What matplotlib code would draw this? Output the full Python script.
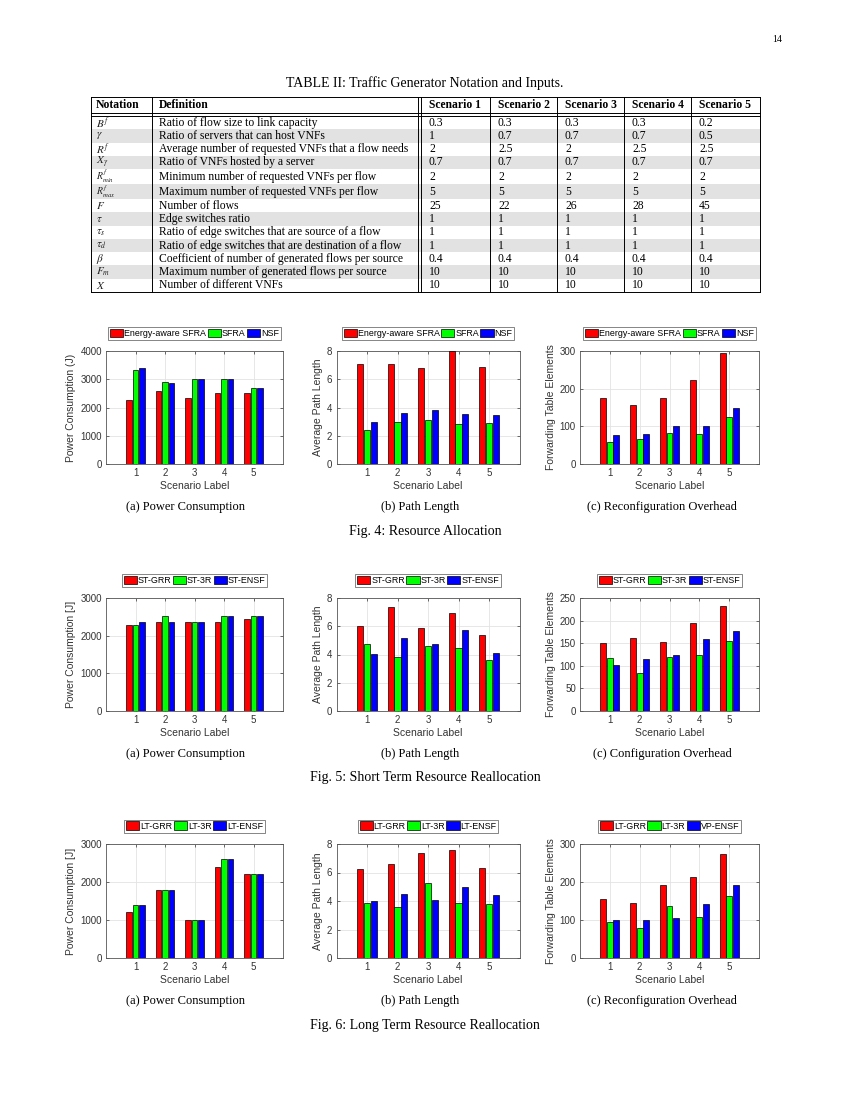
import numpy as np
import matplotlib
matplotlib.use('Agg')
import matplotlib.pyplot as plt
from matplotlib.patches import Rectangle

plt.rcParams['mathtext.fontset'] = 'stix'
plt.rcParams['font.family'] = 'Liberation Sans'

W, H = 850, 1100
SERIF = 'Liberation Serif'

scenarios = [1, 2, 3, 4, 5]
bar_colors = ['#ff0000', '#00ff00', '#0000ff']

# ---- table data ----
tab_title = 'TABLE II: Traffic Generator Notation and Inputs.'
tab_header = ['Notation', 'Definition', 'Scenario 1', 'Scenario 2', 'Scenario 3', 'Scenario 4', 'Scenario 5']
tab_notation = [r'$B^f$', r'$\gamma$', r'$R^f$', r'$X_\gamma$', r'$R^f_{min}$', r'$R^f_{max}$', r'$F$',
                r'$\tau$', r'$\tau_s$', r'$\tau_d$', r'$\beta$', r'$F_m$', r'$X$']
tab_definition = ['Ratio of flow size to link capacity',
                  'Ratio of servers that can host VNFs',
                  'Average number of requested VNFs that a flow needs',
                  'Ratio of VNFs hosted by a server',
                  'Minimum number of requested VNFs per flow',
                  'Maximum number of requested VNFs per flow',
                  'Number of flows',
                  'Edge switches ratio',
                  'Ratio of edge switches that are source of a flow',
                  'Ratio of edge switches that are destination of a flow',
                  'Coefficient of number of generated flows per source',
                  'Maximum number of generated flows per source',
                  'Number of different VNFs']
tab_values = [['0.3', '0.3', '0.3', '0.3', '0.2'],
              ['1', '0.7', '0.7', '0.7', '0.5'],
              ['2', '2.5', '2', '2.5', '2.5'],
              ['0.7', '0.7', '0.7', '0.7', '0.7'],
              ['2', '2', '2', '2', '2'],
              ['5', '5', '5', '5', '5'],
              ['25', '22', '26', '28', '45'],
              ['1', '1', '1', '1', '1'],
              ['1', '1', '1', '1', '1'],
              ['1', '1', '1', '1', '1'],
              ['0.4', '0.4', '0.4', '0.4', '0.4'],
              ['10', '10', '10', '10', '10'],
              ['10', '10', '10', '10', '10']]

# ---- Fig. 4: Resource Allocation ----
f4_labels = ['Energy-aware SFRA', 'SFRA', 'NSF']
f4_power = [[2280, 2600, 2350, 2520, 2520],
            [3320, 2920, 3000, 3000, 2680],
            [3400, 2850, 3000, 3000, 2680]]
f4_path = [[7.1, 7.1, 6.8, 8.0, 6.9],
           [2.4, 3.0, 3.1, 2.8, 2.9],
           [3.0, 3.6, 3.85, 3.55, 3.45]]
f4_fwd = [[176, 156, 176, 223, 296],
          [59, 66, 81, 79, 124],
          [76, 80, 100, 100, 149]]

# ---- Fig. 5: Short Term Resource Reallocation ----
f5_labels = ['ST-GRR', 'ST-3R', 'ST-ENSF']
f5_power = [[2280, 2360, 2360, 2360, 2440],
            [2280, 2520, 2360, 2520, 2520],
            [2360, 2360, 2360, 2520, 2520]]
f5_path = [[6.05, 7.35, 5.9, 6.95, 5.4],
           [4.75, 3.8, 4.6, 4.45, 3.6],
           [4.05, 5.2, 4.75, 5.7, 4.1]]
f5_fwd = [[151, 162, 153, 194, 233],
          [118, 83, 120, 125, 154],
          [101, 115, 124, 160, 176]]

# ---- Fig. 6: Long Term Resource Reallocation ----
f6_labels = ['LT-GRR', 'LT-3R', 'LT-ENSF']
f6_labels_c = ['LT-GRR', 'LT-3R', 'VP-ENSF']
f6_power = [[1200, 1800, 1000, 2400, 2200],
            [1400, 1800, 1000, 2600, 2200],
            [1400, 1800, 1000, 2600, 2200]]
f6_path = [[6.25, 6.6, 7.4, 7.6, 6.35],
           [3.85, 3.6, 5.25, 3.85, 3.8],
           [4.0, 4.5, 4.1, 5.0, 4.45]]
f6_fwd = [[156, 145, 192, 213, 274],
          [96, 79, 136, 107, 164],
          [100, 99, 106, 141, 192]]

fig = plt.figure(figsize=(8.5, 11), dpi=100)
fig.patch.set_facecolor('white')

# background axes in pixel coordinates for table and captions
bg = fig.add_axes([0, 0, 1, 1])
bg.set_xlim(0, W)
bg.set_ylim(H, 0)
bg.axis('off')

bg.text(777, 40, '14', fontsize=7, family=SERIF, ha='center', va='center')

# ---- table ----
bg.text(425, 83, tab_title, fontsize=10, family=SERIF, ha='center', va='center')
col_x = [91, 152, 418, 490, 557, 624, 691, 760]
cell_left = [91, 152, 421, 490, 557, 624, 691]
top, head_bot = 97, 113
row_top = 116
# rows with both sub- and superscripts are a little taller
row_hs = [13.27] * len(tab_notation)
row_hs[4] = row_hs[5] = 15.0
row_hs = np.array(row_hs) * (292 - row_top) / sum(row_hs)
row_y = row_top + np.concatenate([[0], np.cumsum(row_hs)])
bottom = row_y[-1]

for i in range(len(tab_notation)):
    y0, h = row_y[i], row_hs[i]
    if i % 2 == 1:
        bg.add_patch(Rectangle((91, y0), 760 - 91, h, facecolor='#e2e2e2', edgecolor='none'))
    yc = y0 + h / 2
    nfs = 7 if i in (4, 5) else 8
    bg.text(cell_left[0] + 5, yc, tab_notation[i], fontsize=nfs, family=SERIF, ha='left', va='center',
            color='#222222')
    bg.text(cell_left[1] + 7, yc, tab_definition[i], fontsize=8.4, family=SERIF, ha='left', va='center')
    for j, v in enumerate(tab_values[i]):
        bg.text(cell_left[2 + j] + 8, yc, v, fontsize=8.4, family=SERIF, ha='left', va='center')

for j, h in enumerate(tab_header):
    x = cell_left[j] + (5 if j == 0 else 7 if j == 1 else 8)
    bg.text(x, (top + head_bot) / 2 + 0.5, h, fontsize=8.4, family=SERIF, weight='bold', ha='left', va='center')

lw = 0.7
bg.plot([91, 760], [top, top], color='k', lw=lw)
bg.plot([91, 760], [head_bot, head_bot], color='k', lw=lw)
bg.plot([91, 760], [row_top, row_top], color='k', lw=lw)
bg.plot([91, 760], [bottom, bottom], color='k', lw=lw)
for x in col_x:
    bg.plot([x, x], [top, bottom], color='k', lw=lw)
bg.plot([421, 421], [top, bottom], color='k', lw=lw)


# ---- bar panels ----
def bar_panel(box, series, labels, ymax, ystep, ylabel):
    x0, y0, x1, y1 = box
    ax = fig.add_axes([x0 / W, 1 - y1 / H, (x1 - x0) / W, (y1 - y0) / H])
    x = np.array(scenarios)
    for i in range(3):
        ax.bar(x + (i - 1) * 0.22, series[i], 0.2, color=bar_colors[i], edgecolor='k',
               linewidth=0.5, label=labels[i], zorder=3)
    ax.set_xlim(0, 6)
    ax.set_ylim(0, ymax)
    ax.set_xticks(x)
    ax.set_yticks(np.arange(0, ymax + ystep / 2, ystep))
    ax.grid(True, color='#e3e3e3', lw=0.6)
    ax.set_axisbelow(True)
    for s in ax.spines.values():
        s.set_color('#555555')
        s.set_linewidth(0.6)
    ax.tick_params(direction='in', length=2, width=0.5, labelsize=7, colors='#333333', pad=3,
                   top=True, right=True)
    ax.set_xlabel('Scenario Label', fontsize=7.5, color='#333333', labelpad=2)
    ax.set_ylabel(ylabel, fontsize=7.5, color='#333333', labelpad=3)
    leg = ax.legend(ncol=3, loc='lower center', bbox_to_anchor=(0.5, 1.1), fontsize=6.4,
                    handlelength=1.5, handleheight=1.15, handletextpad=0.1, columnspacing=0.15,
                    borderpad=0.2, borderaxespad=0, fancybox=False, framealpha=1)
    leg.get_frame().set_edgecolor('#555555')
    leg.get_frame().set_linewidth(0.5)
    return ax


def figure_row(ytop, ybot, power, path, fwd, labels, labels_c, plabel, cap_y, caps, figcap):
    bar_panel((106, ytop, 283, ybot), power, labels, 4000 if max(max(s) for s in power) > 3000 else 3000,
              1000, plabel)
    bar_panel((336.5, ytop, 519.5, ybot), path, labels, 8, 2, 'Average Path Length')
    fmax = max(max(s) for s in fwd)
    bar_panel((580, ytop, 759, ybot), fwd, labels_c, 300 if fmax > 250 else 250,
              100 if fmax > 250 else 50, 'Forwarding Table Elements')
    for cx, c in zip([186, 420, 662], caps):
        bg.text(cx, cap_y, c, fontsize=9, family=SERIF, ha='center', va='center')
    bg.text(425, cap_y + 24, figcap, fontsize=10, family=SERIF, ha='center', va='center')


figure_row(351, 464, f4_power, f4_path, f4_fwd, f4_labels, f4_labels, 'Power Consumption (J)', 507,
           ['(a) Power Consumption', '(b) Path Length', '(c) Reconfiguration Overhead'],
           'Fig. 4: Resource Allocation')
figure_row(598, 711, f5_power, f5_path, f5_fwd, f5_labels, f5_labels, 'Power Consumption [J]', 754,
           ['(a) Power Consumption', '(b) Path Length', '(c) Configuration Overhead'],
           'Fig. 5: Short Term Resource Reallocation')
figure_row(844, 958, f6_power, f6_path, f6_fwd, f6_labels, f6_labels_c, 'Power Consumption [J]', 1001,
           ['(a) Power Consumption', '(b) Path Length', '(c) Reconfiguration Overhead'],
           'Fig. 6: Long Term Resource Reallocation')

fig.savefig('out.png', dpi=100)
